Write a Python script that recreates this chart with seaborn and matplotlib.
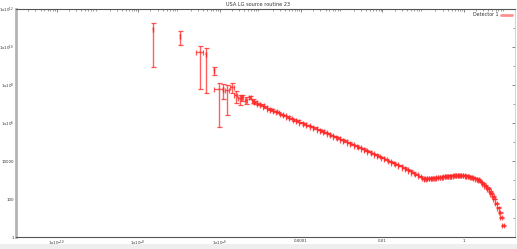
import numpy as np
import pandas as pd
import matplotlib
matplotlib.use("Agg")
import matplotlib.pyplot as plt
import matplotlib.ticker as mticker
from matplotlib.lines import Line2D
from matplotlib.patches import Rectangle
import seaborn as sns

title = "USA LG source routine 23"
series_name = "Detector 1"

energy = [
    2.3e-8, 1.07e-7, 3.3e-7, 4.6e-7, 7.3e-7, 9.8e-7, 1.23e-6, 1.55e-6, 2.0e-6, 2.5e-6,
    3.1e-6, 3.6e-6, 4.4e-6, 5.6e-6, 6.6e-6,
    7.5e-6, 9.0e-6, 1.1e-5, 1.3e-5, 1.6e-5, 1.9e-5, 2.3e-5, 2.7e-5, 3.3e-5, 3.9e-5,
    4.7e-5, 5.6e-5, 6.8e-5, 8.2e-5, 1.0e-4, 1.2e-4, 1.5e-4, 1.8e-4, 2.2e-4, 2.7e-4,
    3.3e-4, 3.9e-4, 4.7e-4, 5.6e-4, 6.8e-4, 8.2e-4, 1.0e-3, 1.2e-3, 1.5e-3, 1.8e-3,
    2.2e-3, 2.7e-3, 3.3e-3, 3.9e-3, 4.7e-3, 5.6e-3, 6.8e-3, 8.2e-3, 1.0e-2, 1.2e-2,
    1.5e-2, 1.8e-2, 2.2e-2, 2.7e-2, 3.3e-2, 3.9e-2, 4.7e-2, 5.6e-2, 6.8e-2, 8.2e-2,
    0.10, 0.11, 0.12, 0.13, 0.15, 0.16, 0.18, 0.20, 0.22, 0.24,
    0.27, 0.30, 0.33, 0.36, 0.39, 0.43, 0.47, 0.51, 0.56, 0.62,
    0.68, 0.75, 0.82, 0.91, 1.0, 1.1, 1.2, 1.3, 1.5, 1.6,
    1.8, 2.0, 2.2, 2.4, 2.7, 3.0, 3.3, 3.6, 3.9, 4.3,
    4.7, 5.1, 5.6, 6.2, 6.8, 7.5, 8.2, 9.1,
]
flux = [
    9.04e10, 3.93e10, 5.5e9, 4.27e9, 6.15e8, 6.4e7, 6.45e7, 5.2e7, 8.3e7, 2.95e7,
    2.0e7, 2.3e7, 1.7e7, 2.3e7, 1.5e7,
    1.25e7, 1.0e7, 8.9e6, 7.1e6, 5.5e6, 5.0e6, 4.1e6, 3.6e6, 2.9e6, 2.5e6,
    2.1e6, 1.74e6, 1.47e6, 1.26e6, 1.05e6, 9.0e5, 7.5e5, 6.4e5, 5.4e5, 4.5e5,
    3.8e5, 3.3e5, 2.8e5, 2.3e5, 1.94e5, 1.63e5, 1.35e5, 1.13e5, 9.1e4, 7.7e4,
    6.3e4, 5.2e4, 4.3e4, 3.7e4, 3.0e4, 2.6e4, 2.1e4, 1.78e4, 1.47e4, 1.23e4,
    1.0e4, 8.3e3, 6.9e3, 5.6e3, 4.5e3, 3.7e3, 3.0e3, 2.4e3, 1.95e3, 1.58e3,
    1.2e3, 1.17e3, 1.2e3, 1.23e3, 1.26e3, 1.27e3, 1.3e3, 1.33e3, 1.36e3, 1.4e3,
    1.45e3, 1.5e3, 1.55e3, 1.6e3, 1.63e3, 1.67e3, 1.7e3, 1.72e3, 1.76e3, 1.78e3,
    1.78e3, 1.78e3, 1.78e3, 1.77e3, 1.74e3, 1.7e3, 1.63e3, 1.57e3, 1.45e3, 1.38e3,
    1.26e3, 1.15e3, 1.07e3, 9.5e2, 7.9e2, 6.3e2, 5.1e2, 4.2e2, 3.4e2, 2.6e2,
    1.9e2, 1.4e2, 1.0e2, 59, 35, 20, 11, 4.2,
]
flux_err = [
    8.95e10, 2.67e10, 5.44e9, 4.23e9, 2.75e8, 6.34e7, 4.55e7, 4.95e7, 4.7e7, 1.85e7,
    1.1e7, 8.0e6, 7.0e6, 5.0e6, 4.0e6,
    2.0e6, 1.4e6, 1.2e6, 8.0e5, 6.0e5, 5.0e5, 4.0e5, 3.2e5, 2.6e5, 2.2e5,
    1.8e5, 1.4e5, 1.2e5, 1.0e5, 8.0e4, 7.0e4, 6.0e4, 5.0e4, 4.2e4, 3.5e4,
    3.0e4, 2.6e4, 2.2e4, 1.8e4, 1.5e4, 1.3e4, 9.0e3, 7.5e3, 6.0e3, 5.0e3,
    4.0e3, 3.3e3, 2.7e3, 2.3e3, 1.9e3, 1.6e3, 1.3e3, 1.1e3, 9.0e2, 7.5e2,
    6.0e2, 5.0e2, 4.2e2, 3.4e2, 2.7e2, 2.2e2, 1.8e2, 1.4e2, 1.2e2, 95,
    60, 58, 60, 60, 62, 62, 64, 65, 66, 68,
    70, 72, 74, 76, 78, 80, 82, 82, 84, 85,
    85, 85, 85, 84, 83, 80, 78, 75, 70, 66,
    60, 55, 51, 46, 38, 31, 25, 21, 17, 13,
    9.5, 7.0, 5.0, 3.0, 1.8, 1.0, 0.6, 0.25,
]
energy_err = [
    0.0, 0.0, 7.0e-8, 0.0, 0.0, 2.3e-7, 0.0, 2.0e-7, 2.0e-7, 2.0e-7,
    2.0e-7, 2.5e-7, 3.0e-7, 4.0e-7, 4.0e-7,
    6.5e-7, 8.0e-7, 1.0e-6, 1.2e-6, 1.5e-6, 1.8e-6, 2.1e-6, 2.5e-6, 3.0e-6, 3.6e-6,
    4.3e-6, 5.1e-6, 6.2e-6, 7.5e-6, 9.0e-6, 1.1e-5, 1.4e-5, 1.6e-5, 2.0e-5, 2.5e-5,
    3.0e-5, 3.6e-5, 4.3e-5, 5.1e-5, 6.2e-5, 7.5e-5, 9.0e-5, 1.1e-4, 1.4e-4, 1.6e-4,
    2.0e-4, 2.5e-4, 3.0e-4, 3.6e-4, 4.3e-4, 5.1e-4, 6.2e-4, 7.5e-4, 9.0e-4, 1.1e-3,
    1.4e-3, 1.6e-3, 2.0e-3, 2.5e-3, 3.0e-3, 3.6e-3, 4.3e-3, 5.1e-3, 6.2e-3, 7.5e-3,
    5.0e-3, 5.5e-3, 6.0e-3, 6.5e-3, 7.5e-3, 8.0e-3, 9.0e-3, 1.0e-2, 1.1e-2, 1.2e-2,
    1.35e-2, 1.5e-2, 1.65e-2, 1.8e-2, 1.95e-2, 2.15e-2, 2.35e-2, 2.55e-2, 2.8e-2, 3.1e-2,
    3.4e-2, 3.75e-2, 4.1e-2, 4.55e-2, 5.0e-2, 5.5e-2, 6.0e-2, 6.5e-2, 7.5e-2, 8.0e-2,
    9.0e-2, 0.10, 0.11, 0.12, 0.135, 0.15, 0.165, 0.18, 0.195, 0.215,
    0.235, 0.255, 0.28, 0.31, 0.34, 0.375, 0.41, 0.455,
]

x_tick_values = [1e-10, 1e-8, 1e-6, 1e-4, 1e-2, 1]
x_tick_labels = [r"$1\mathrm{x}10^{-10}$", r"$1\mathrm{x}10^{-8}$", r"$1\mathrm{x}10^{-6}$",
                 "0.0001", "0.01", "1"]
y_tick_values = [1, 1e2, 1e4, 1e6, 1e8, 1e10, 1e12]
y_tick_labels = ["1", "100", "10000", r"$1\mathrm{x}10^{6}$", r"$1\mathrm{x}10^{8}$",
                 r"$1\mathrm{x}10^{10}$", r"$1\mathrm{x}10^{12}$"]

df = pd.DataFrame({"energy": energy, "flux": flux,
                   "flux_err": flux_err, "energy_err": energy_err})

sns.set_theme(style="white")
plt.rcParams["font.family"] = ["DejaVu Sans"]
plt.rcParams["mathtext.fontset"] = "dejavusans"

RED = "#ff2a2a"
W, H = 517, 249
fig = plt.figure(figsize=(W / 100, H / 100), dpi=100)
fig.patch.set_facecolor("white")
fig.patches.append(Rectangle((0, 0), 1, 5 / H, transform=fig.transFigure,
                             facecolor="#eeeeee", edgecolor="none", zorder=0))
ax = fig.add_axes([16 / W, 12 / H, 499 / W, 228 / H])
ax.set_facecolor("white")

eb = ax.errorbar(df["energy"], df["flux"], yerr=df["flux_err"], xerr=df["energy_err"],
                 fmt="none", ecolor=RED, elinewidth=1.0, capsize=1.8,
                 capthick=0.9, zorder=3)
for cap in eb.lines[1]:
    cap.set_color(RED)
    cap.set_alpha(0.8)
for coll in eb.lines[2]:
    coll.set_color(RED)
    coll.set_alpha(0.75)

sns.scatterplot(data=df, x="energy", y="flux", ax=ax, s=0.4, color=RED,
                edgecolor="none", legend=False, zorder=4)

ax.set_xscale("log")
ax.set_yscale("log")
ax.set_xlim(1e-11, 18)
ax.set_ylim(1, 1e12)

ax.xaxis.set_major_locator(mticker.FixedLocator(x_tick_values))
ax.xaxis.set_major_formatter(mticker.FixedFormatter(x_tick_labels))
ax.yaxis.set_major_locator(mticker.FixedLocator(y_tick_values))
ax.yaxis.set_major_formatter(mticker.FixedFormatter(y_tick_labels))
ax.xaxis.set_minor_locator(mticker.LogLocator(base=10, subs=np.arange(2, 10), numticks=100))
ax.yaxis.set_minor_locator(mticker.LogLocator(base=10, subs=(1.0,), numticks=100))
ax.xaxis.set_minor_formatter(mticker.NullFormatter())
ax.yaxis.set_minor_formatter(mticker.NullFormatter())

ax.tick_params(axis="both", which="both", direction="in", top=True, right=True,
               colors="#555555", labelcolor="#333333", labelsize=2.8, pad=1.2)
ax.tick_params(which="major", length=2.5, width=0.5)
ax.tick_params(which="minor", length=1.3, width=0.4)

ax.set_xlabel("")
ax.set_ylabel("")

for side, lw, col in [("left", 2.0, "#b4b4b4"), ("bottom", 0.8, "#555555"),
                      ("top", 0.8, "#555555"), ("right", 0.6, "#cccccc")]:
    ax.spines[side].set_visible(True)
    ax.spines[side].set_linewidth(lw)
    ax.spines[side].set_color(col)

fig.text(0.5, 1 - 4 / H, title, ha="center", va="center", fontsize=3.6, color="#333333")

handle = Line2D([0], [0], color="#ff9090", lw=2.0)
leg = ax.legend([handle], [series_name], loc="upper right", frameon=False,
                markerfirst=False, fontsize=3.4, handlelength=2.2,
                borderaxespad=0.3, handletextpad=0.6)
for t in leg.get_texts():
    t.set_color("#333333")

fig.savefig("out.png", dpi=100, facecolor="white")
